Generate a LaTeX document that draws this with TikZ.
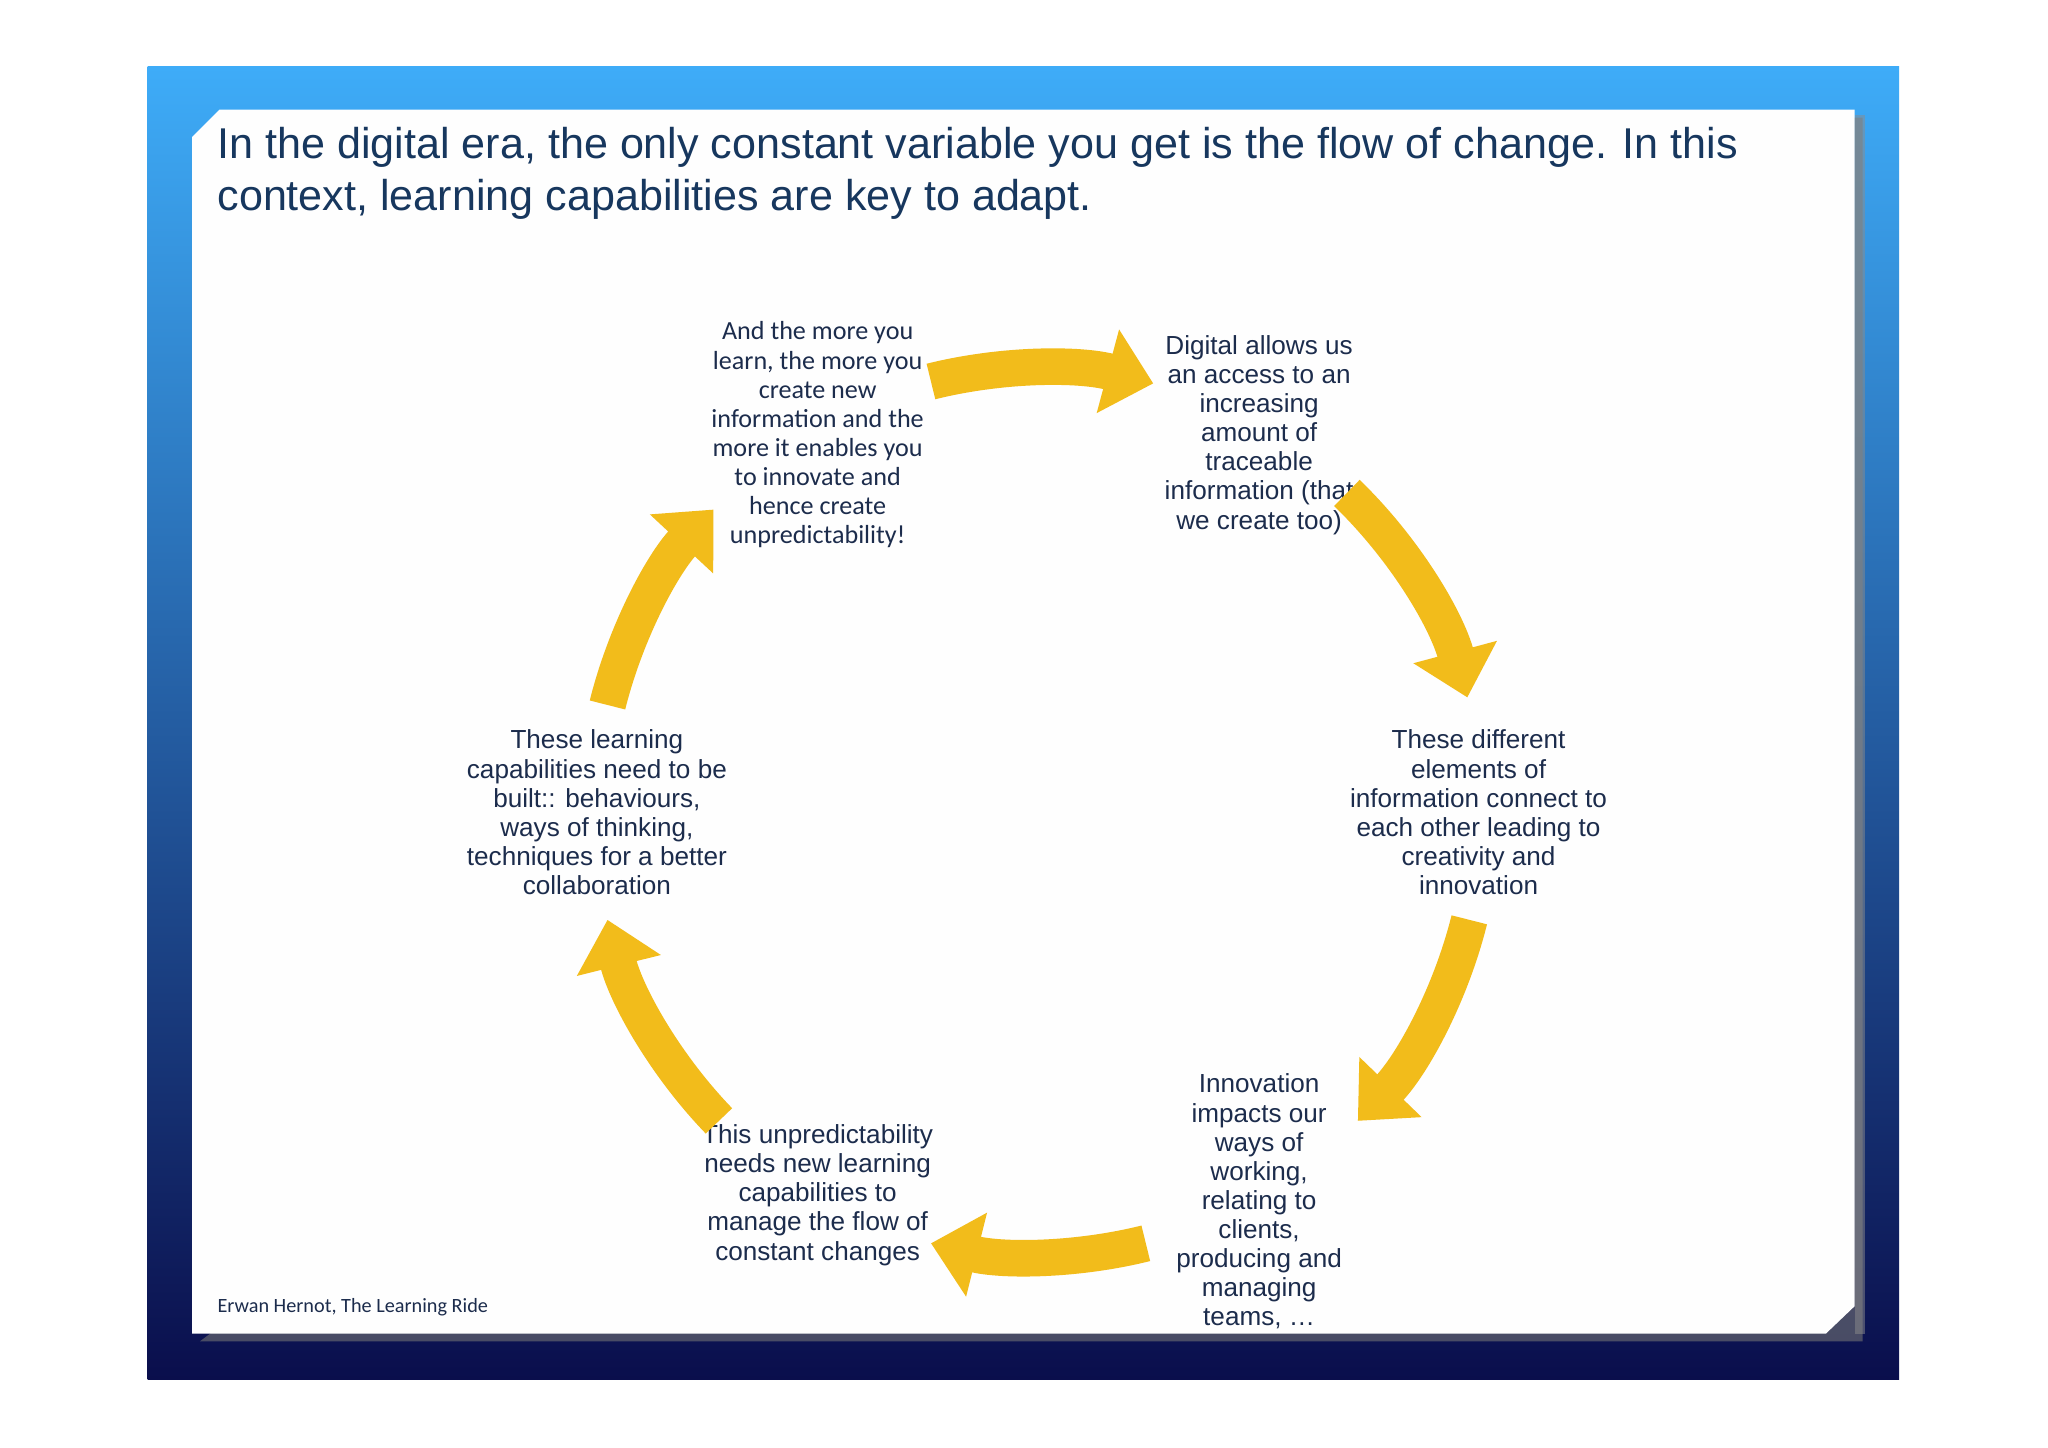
\documentclass[tikz,border=0pt]{standalone}
\usepackage{fontspec}
\setmainfont{Liberation Sans}
\newfontfamily\calib{Carlito}
\usetikzlibrary{arrows.meta,calc}
\definecolor{txt}{HTML}{1C2C4C}
\definecolor{ttl}{HTML}{17375E}
\definecolor{arrowy}{HTML}{F2BC1B}
\definecolor{bgtop}{HTML}{3EACF8}
\definecolor{bgmid}{HTML}{1B6CC0}
\definecolor{bgbot}{HTML}{0A0E4C}
\tikzset{
 lbl/.style={align=center,text=txt,font=\fontsize{20}{22.3}\selectfont},
 arr/.style={draw=arrowy,line width=28pt,-{Triangle[width=64pt,length=36pt]}}
}
\begin{document}
\begin{tikzpicture}[x=1pt,y=1pt]
\useasboundingbox (0,0) rectangle (1568,1108);
\fill[white] (0,0) rectangle (1568,1108);
\shade[top color=bgtop,middle color=bgmid,bottom color=bgbot] (113,52) rectangle (1454,1057);
% shadow
\fill[black!55,opacity=0.6] (153,81) -- (1426,81) -- (1426,1018) -- (1404,1018) -- cycle;
\fill[black!45,opacity=0.5] (1420,87) -- (1428,87) -- (1428,1020) -- (1420,1020) -- cycle;
% panel
\fill[white!99!gray] (147,87) -- (1398,87) -- (1420,108) -- (1420,1024) -- (168,1024) -- (147,1003) -- cycle;
\node[anchor=north west,align=left,text=ttl,font=\fontsize{33}{39.5}\selectfont] (title) at (163,1014)
 {In the digital era, the only constant variable you get is the flow of change. In this\\context, learning capabilities are key to adapt.};
\node[anchor=west,text=txt,font=\calib\fontsize{15.5}{18}\selectfont] (foot) at (163,107) {Erwan Hernot, The Learning Ride};
\coordinate (c) at (795,486);
\node[lbl,font=\calib\fontsize{20}{22.3}\selectfont] (tl) at (626,775) {And the more you\\learn, the more you\\create new\\information and the\\more it enables you\\to innovate and\\hence create\\unpredictability!};
\node[lbl] (tr) at (964,775) {Digital allows us\\an access to an\\increasing\\amount of\\traceable\\information (that\\we create too)};
\node[lbl] (r) at (1132,486) {These different\\elements of\\information connect to\\each other leading to\\creativity and\\innovation};
\node[lbl] (br) at (964,188) {Innovation\\impacts our\\ways of\\working,\\relating to\\clients,\\producing and\\managing\\teams, …};
\node[lbl] (bl) at (626,193) {This unpredictability\\needs new learning\\capabilities to\\manage the flow of\\constant changes};
\node[lbl] (l) at (457,486) {These learning\\capabilities need to be\\built:: behaviours,\\ways of thinking,\\techniques for a better\\collaboration};
\foreach \s/\e in {104/75, 46/15, -14/-44, -76/-104, -136/-166, 166/137}
  \draw[arr] ($(c)+(\s:340)$) arc[start angle=\s,end angle=\e,radius=340];
\end{tikzpicture}
\end{document}
